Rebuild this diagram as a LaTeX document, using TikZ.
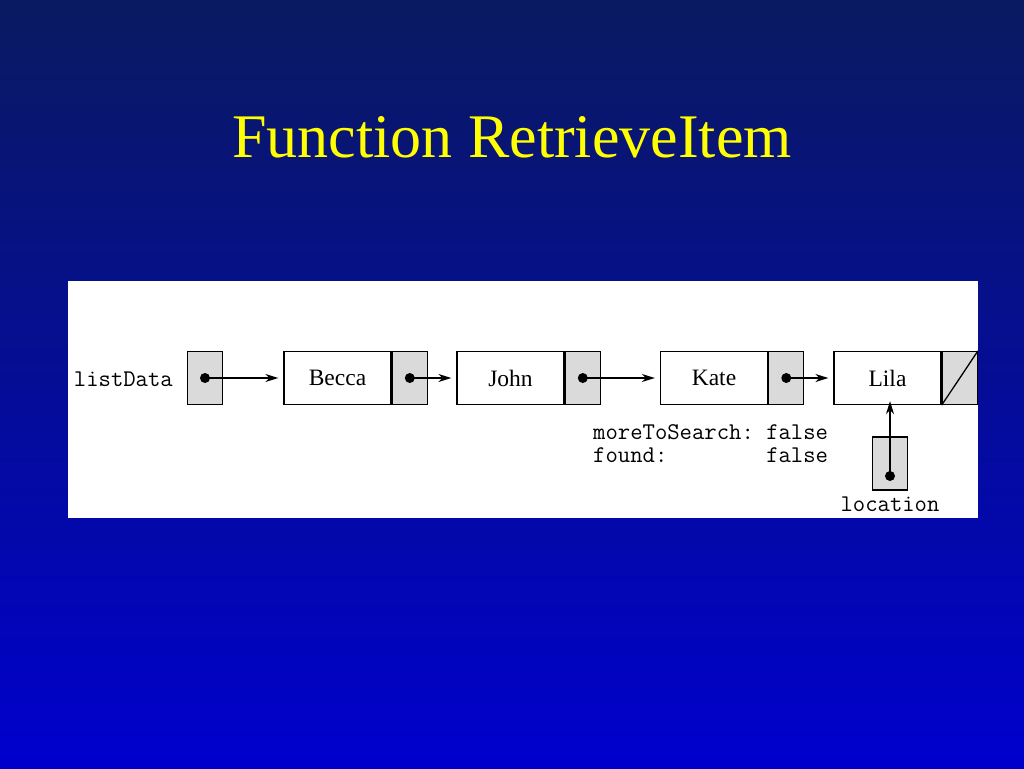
\documentclass[tikz,border=0pt]{standalone}
\usepackage{fontspec}
\setmainfont{Liberation Serif}
\usetikzlibrary{arrows.meta,positioning}
\definecolor{slidetop}{RGB}{10, 26, 96}
\definecolor{slidebot}{RGB}{0, 0, 205}
\definecolor{titleyellow}{RGB}{255, 255, 0}
\definecolor{cellgray}{RGB}{218, 218, 218}
\tikzset{
  databox/.style={draw, line width=1.3pt, fill=white, minimum width=107pt, minimum height=53pt, inner sep=0, font=\fontsize{23.5}{28}\selectfont},
  ptrbox/.style={draw, line width=1.3pt, fill=cellgray, minimum width=35pt, minimum height=53pt, inner sep=0},
  link/.style={line width=1.3pt, -{Stealth[length=13pt,width=8pt]}},
  monotext/.style={inner sep=0, font=\ttfamily\fontsize{24}{23}\selectfont}
}
\begin{document}
\begin{tikzpicture}[x=1pt,y=-1pt]
    % Slide background and panel
    \shade[top color=slidetop, bottom color=slidebot] (0,0) rectangle (1024,768);
    \useasboundingbox (0,0) rectangle (1024,768);
    \fill[white] (68,281) rectangle (978,518);
    % Title text
    \node[text=titleyellow, font=\fontsize{62}{66}\selectfont] (Title) at (512,137) {Function RetrieveItem};
    % Head pointer
    \node[ptrbox] (head) at (205,378) {};
    \node[monotext, anchor=east] (headlabel) at (173,379) {listData};
    % List nodes
    \node[databox] (becca) at (337.5,378) {Becca};
    \node[ptrbox, right=0pt of becca] (beccanext) {};
    \node[databox] (john) at (510.5,378) {John};
    \node[ptrbox, right=0pt of john] (johnnext) {};
    \node[databox] (kate) at (714,378) {Kate};
    \node[ptrbox, right=0pt of kate] (katenext) {};
    \node[databox] (lila) at (887.5,378) {Lila};
    \node[ptrbox, right=0pt of lila] (lilanext) {};
    \draw[line width=1.3pt] (lilanext.south west) -- (lilanext.north east);
    % Links
    \foreach \from/\to in {head/becca, beccanext/john, johnnext/kate, katenext/lila} {
      \fill (\from.center) circle (5);
      \draw[link] (\from.center) -- ([xshift=-5pt]\to.west);
    }
    % Location pointer
    \node[ptrbox] (loc) at (890,463.5) {};
    \coordinate (locdot) at (890,476);
    \fill (locdot) circle (5);
    \draw[link] (locdot) -- ([yshift=4pt]lila.south -| locdot);
    \node[monotext] (loclabel) at (890,504) {location};
    % Flags
    \node[monotext, anchor=north west, align=left] (flags) at (593,424) {moreToSearch:\ false\\found:\ \ \ \ \ \ \ \ false};
\end{tikzpicture}
\end{document}
